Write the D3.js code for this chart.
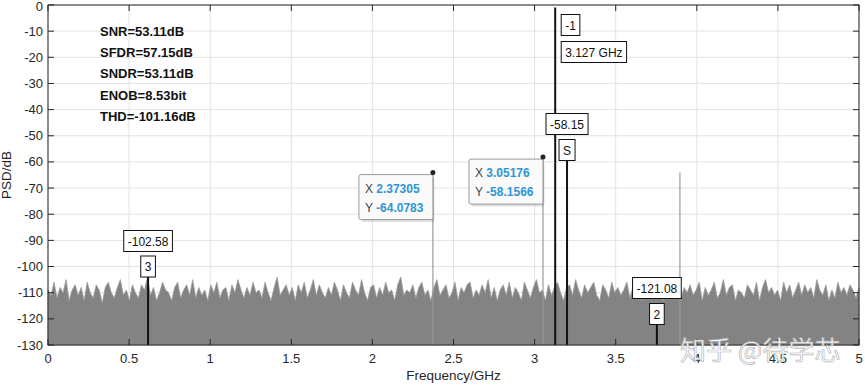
<!DOCTYPE html>
<html>
<head>
<meta charset="utf-8">
<script src="https://cdn.jsdelivr.net/npm/d3@7.9.0/dist/d3.min.js"></script>
<style>
  body { margin: 0; background: #fff; }
  svg { display: block; font-family: "Liberation Sans", Arial, sans-serif; }
</style>
</head>
<body>
<svg id="chart" width="865" height="385"></svg>
<script>
// noise floor of the spectrum, peak of each bin in dB
const noise = [
  -109,-111,-106,-112,-108,-110,-105,-113,-109,-107,
  -111,-108,-113,-106,-110,-112,-107,-109,-114,-108,
  -106,-110,-112,-108,-105,-111,-109,-113,-107,-110,
  -112,-107,-109,-104,-111,-108,-113,-110,-106,-109,
  -110,-113,-108,-106,-112,-109,-107,-111,-105,-112,
  -108,-111,-109,-113,-107,-110,-106,-112,-109,-108,
  -113,-107,-110,-105,-109,-112,-108,-111,-106,-110,
  -109,-112,-106,-110,-113,-108,-104,-111,-109,-107,
  -111,-108,-113,-107,-110,-106,-112,-109,-105,-111,
  -107,-110,-112,-108,-111,-106,-109,-113,-107,-110,
  -112,-106,-109,-111,-105,-110,-113,-108,-107,-112,
  -108,-111,-106,-110,-109,-113,-107,-104,-111,-109,
  -110,-107,-112,-108,-106,-111,-109,-113,-108,-105,
  -111,-109,-107,-112,-110,-106,-113,-108,-110,-107,
  -106,-112,-109,-111,-107,-110,-105,-112,-108,-113,
  -109,-107,-111,-106,-112,-108,-110,-113,-106,-109,
  -112,-108,-105,-110,-109,-113,-107,-111,-108,-106,
  -110,-113,-108,-107,-111,-105,-109,-112,-107,-110,
  -108,-106,-111,-113,-107,-109,-112,-106,-110,-108,
  -111,-109,-106,-112,-108,-104,-110,-113,-107,-109,
  -107,-111,-109,-106,-113,-108,-110,-105,-112,-109,
  -112,-108,-110,-107,-111,-109,-106,-113,-108,-111,
  -109,-106,-112,-110,-105,-111,-108,-107,-113,-109,
  -110,-112,-107,-109,-111,-106,-113,-108,-105,-110,
  -108,-111,-109,-113,-106,-110,-107,-112,-109,-106,
  -111,-107,-110,-108,-112,-105,-109,-111,-107,-113,
  -109,-112,-106,-110,-108,-111,-107,-109,-112,-108
];

// tones drawn as stems: [frequency GHz, level dB]
const toneFreqs  = [3.127, 3.2, 0.617, 3.754];
const toneLevels = [-1, -58.15, -102.58, -121.08];
const toneTags   = ['3.127 GHz', 'S', '3', '2'];

// thinner grey spurs
const spurFreqs  = [2.37305, 3.05176, 3.896];
const spurLevels = [-64.0783, -58.1566, -64.0];

const tipFreqs  = ['2.37305', '3.05176'];
const tipLevels = ['-64.0783', '-58.1566'];

const stats = ['SNR=53.11dB', 'SFDR=57.15dB', 'SNDR=53.11dB', 'ENOB=8.53bit', 'THD=-101.16dB'];

const xTicks = [0, 0.5, 1, 1.5, 2, 2.5, 3, 3.5, 4, 4.5, 5];
const yTicks = d3.range(-130, 1, 10);

const W = 865, H = 385;
const m = { top: 5, right: 6, bottom: 40, left: 48 };

const svg = d3.select('#chart');
const x = d3.scaleLinear().domain([0, 5]).range([m.left, W - m.right]);
const y = d3.scaleLinear().domain([-130, 0]).range([H - m.bottom, m.top]);

// grid
const grid = svg.append('g');
grid.selectAll('.gx').data(xTicks).join('line')
  .attr('x1', d => x(d)).attr('x2', d => x(d))
  .attr('y1', y(0)).attr('y2', y(-130))
  .attr('stroke', '#e3e3e3');
grid.selectAll('.gy').data(yTicks).join('line')
  .attr('x1', x(0)).attr('x2', x(5))
  .attr('y1', d => y(d)).attr('y2', d => y(d))
  .attr('stroke', '#e3e3e3');

// noise floor, spiky area
const noiseArea = d3.area()
  .x((d, i) => x(i * 5 / (noise.length - 1)))
  .y0(y(-130))
  .y1(d => y(d));
svg.append('path').datum(noise)
  .attr('d', noiseArea)
  .attr('fill', '#838383')
  .attr('stroke', '#9c9c9c').attr('stroke-width', 0.8);

// spurs
svg.append('g').selectAll('line').data(spurFreqs).join('line')
  .attr('x1', d => x(d)).attr('x2', d => x(d))
  .attr('y1', (d, i) => y(spurLevels[i])).attr('y2', y(-130))
  .attr('stroke', '#9a9a9a').attr('stroke-width', 1.2);

// tones
svg.append('g').selectAll('line').data(toneFreqs).join('line')
  .attr('x1', d => x(d)).attr('x2', d => x(d))
  .attr('y1', (d, i) => y(toneLevels[i])).attr('y2', y(-130))
  .attr('stroke', '#111').attr('stroke-width', 2);

// axes box with inward ticks
const axis = svg.append('g').attr('font-size', 13).attr('fill', '#262626');
axis.append('rect')
  .attr('x', x(0)).attr('y', y(0))
  .attr('width', x(5) - x(0)).attr('height', y(-130) - y(0))
  .attr('fill', 'none').attr('stroke', '#262626');
xTicks.forEach(t => {
  axis.append('line').attr('x1', x(t)).attr('x2', x(t)).attr('y1', y(-130)).attr('y2', y(-130) - 6).attr('stroke', '#262626');
  axis.append('line').attr('x1', x(t)).attr('x2', x(t)).attr('y1', y(0)).attr('y2', y(0) + 6).attr('stroke', '#262626');
  axis.append('text').attr('x', x(t)).attr('y', y(-130) + 18)
    .attr('text-anchor', 'middle').text(t);
});
yTicks.forEach(t => {
  axis.append('line').attr('x1', x(0)).attr('x2', x(0) + 6).attr('y1', y(t)).attr('y2', y(t)).attr('stroke', '#262626');
  axis.append('line').attr('x1', x(5)).attr('x2', x(5) - 6).attr('y1', y(t)).attr('y2', y(t)).attr('stroke', '#262626');
  axis.append('text').attr('x', x(0) - 5).attr('y', Math.max(y(t) + 4.5, 11))
    .attr('text-anchor', 'end').text(t);
});
axis.append('text').attr('x', (x(0) + x(5)) / 2).attr('y', H - 5)
  .attr('text-anchor', 'middle').attr('font-size', 13.5).text('Frequency/GHz');
axis.append('text').attr('transform', `translate(11,${(y(0) + y(-130)) / 2}) rotate(-90)`)
  .attr('text-anchor', 'middle').attr('font-size', 13.5).text('PSD/dB');

// stats text
svg.append('g').selectAll('text').data(stats).join('text')
  .attr('x', 100).attr('y', (d, i) => 36 + i * 21.2)
  .attr('font-size', 13).attr('font-weight', 'bold').attr('fill', '#111')
  .text(d => d);

// boxed labels
function label(cx, cy, txt, anchor) {
  const g = svg.append('g');
  const t = g.append('text').attr('font-size', 12).attr('fill', '#111').text(txt);
  const w = t.node().getComputedTextLength() + 8;
  const bx = anchor === 'left' ? cx : cx - w / 2;
  g.insert('rect', 'text').attr('x', bx).attr('y', cy - 10.5)
    .attr('width', w).attr('height', 21)
    .attr('fill', '#fff').attr('stroke', '#111');
  t.attr('x', bx + 4).attr('y', cy + 4.5);
}
// main tone
label(x(toneFreqs[0]) + 6, 25, String(toneLevels[0]), 'left');
label(x(toneFreqs[0]) + 6, 52, toneTags[0], 'left');
// S spur
label(x(toneFreqs[1]), 124, String(toneLevels[1]), 'mid');
label(x(toneFreqs[1]), 150, toneTags[1], 'mid');
// harmonic 3
label(x(toneFreqs[2]), 241, String(toneLevels[2]), 'mid');
label(x(toneFreqs[2]), 266.5, toneTags[2], 'mid');
// harmonic 2
label(x(toneFreqs[3]), 288, String(toneLevels[3]), 'mid');
label(x(toneFreqs[3]), 314, toneTags[3], 'mid');

// datatips
spurFreqs.slice(0, 2).forEach((f, i) => {
  const px = x(f), py = y(spurLevels[i]);
  const g = svg.append('g');
  g.append('rect').attr('x', px - 73).attr('y', py + 3)
    .attr('width', 73).attr('height', 45).attr('rx', 2)
    .attr('fill', '#000').attr('opacity', 0.12).attr('transform', 'translate(1.5,1.5)');
  g.append('rect').attr('x', px - 74).attr('y', py + 2)
    .attr('width', 74).attr('height', 45).attr('rx', 2)
    .attr('fill', '#fafafa').attr('stroke', '#9a9a9a');
  const rows = [['X', tipFreqs[i]], ['Y', tipLevels[i]]];
  rows.forEach((r, j) => {
    const t = g.append('text').attr('x', px - 68).attr('y', py + 20 + j * 19).attr('font-size', 12);
    t.append('tspan').attr('fill', '#444').text(r[0] + ' ');
    t.append('tspan').attr('fill', '#2f95d4').attr('font-weight', 'bold').text(r[1]);
  });
  g.append('circle').attr('cx', px).attr('cy', py).attr('r', 2.5).attr('fill', '#222');
});

// watermark
svg.append('text').attr('x', 680).attr('y', 360)
  .attr('font-family', '"Noto Sans CJK SC", sans-serif').attr('font-size', 26)
  .attr('fill', '#fff').attr('stroke', '#b0b0b0').attr('stroke-width', 0.7)
  .attr('opacity', 0.9)
  .text('知乎 @待学芯');
</script>
</body>
</html>
